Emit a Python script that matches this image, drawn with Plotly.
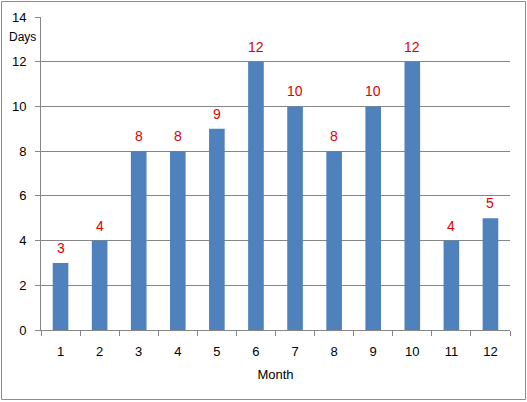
import plotly.graph_objects as go

months = [str(m) for m in range(1, 13)]
days = [3, 4, 8, 8, 9, 12, 10, 8, 10, 12, 4, 5]

W, H = 527, 402
L, R, T, B = 41, 17, 17, 72
pw, ph = W - L - R, H - T - B

fig = go.Figure(go.Bar(
    x=months, y=days,
    width=0.4,
    marker=dict(color="#4F81BD", line=dict(width=0)),
    hoverinfo="x+y",
))

# value labels sit a little above each bar (x given as category index)
for i, d in enumerate(days):
    fig.add_annotation(
        x=i, y=d, text=str(d), showarrow=False,
        yanchor="middle", yshift=15,
        font=dict(color="#E00000", size=14),
    )

fig.update_layout(
    width=W, height=H,
    margin=dict(l=L, r=R, t=T, b=B, autoexpand=False),
    plot_bgcolor="white", paper_bgcolor="white",
    font=dict(family="Liberation Sans, Arial, sans-serif", size=13, color="black"),
    showlegend=False,
    bargap=0.6,
)
fig.update_xaxes(
    type="category",
    title=dict(text="Month", font=dict(size=13), standoff=12),
    showline=True, linecolor="#868686", linewidth=1,
    ticks="outside", tickson="boundaries", ticklen=5, tickcolor="#868686",
    ticklabelstandoff=9,
    showgrid=False,
)
fig.update_yaxes(
    range=[0, 14], dtick=2,
    showline=True, linecolor="#868686", linewidth=1,
    ticks="outside", ticklen=5, tickcolor="#868686",
    ticklabelstandoff=6,
    showgrid=True, gridcolor="#868686", gridwidth=1,
    zeroline=False,
)
fig.add_annotation(
    text="Days", xref="paper", yref="paper",
    x=-3 / pw, y=1 - 20 / ph, xanchor="right", yanchor="middle",
    showarrow=False, font=dict(size=12),
)
# outer chart border
fig.add_shape(
    type="rect", xref="paper", yref="paper",
    x0=(1.5 - L) / pw, x1=(525.5 - L) / pw,
    y0=-(399.5 - (H - B)) / ph, y1=(H - B - 1.5) / ph,
    line=dict(color="#8C8C8C", width=1),
)

fig.write_html("out.html", config={"displayModeBar": False},
               post_script="document.body.style.margin='0';")
